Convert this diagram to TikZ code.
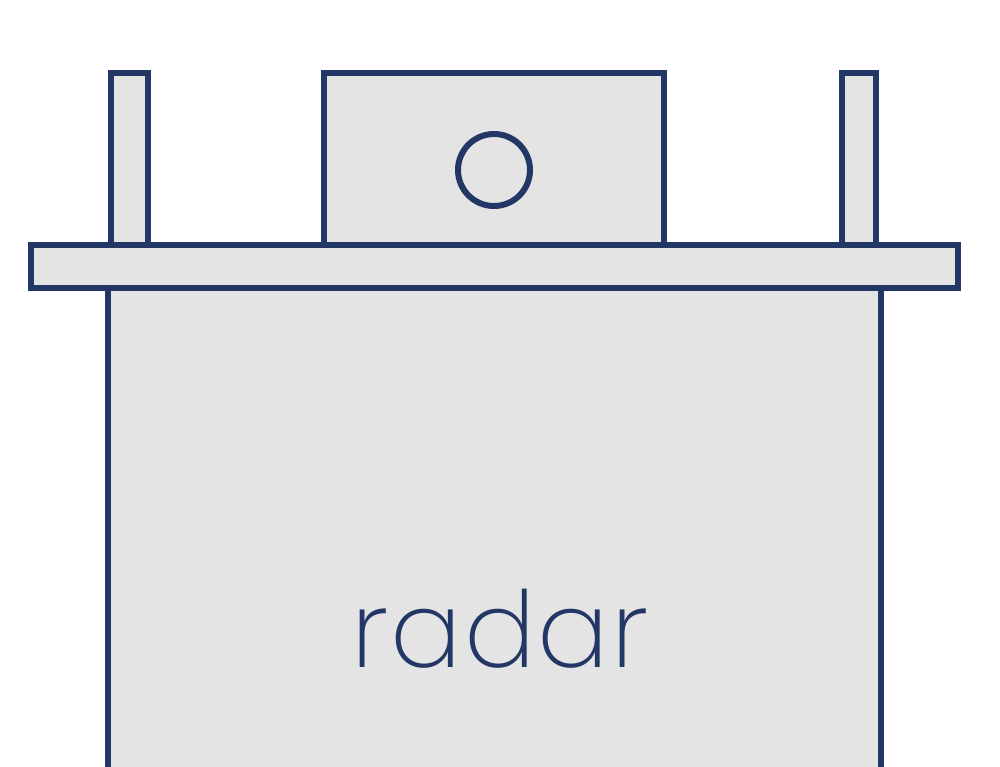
\documentclass[tikz,border=0pt]{standalone}
\usepackage{fontspec}
\newfontfamily\radarfont{Poppins}[UprightFont=* ExtraLight, LetterSpace=2]
\definecolor{navy}{HTML}{233766}
\definecolor{panel}{HTML}{E4E4E4}
\tikzset{
  part/.style={draw=navy, fill=panel, line width=6pt},
}
\begin{document}
\begin{tikzpicture}[x=1pt, y=-1pt]
		\clip (0,0) rectangle (1000,766);
		\fill[white] (0,0) rectangle (1000,766);
		% Posts and top box
		\draw[part] (111,245) rectangle (148,73);
		\draw[part] (842,245) rectangle (876,73);
		\draw[part] (324,245) rectangle (664,73);
		\draw[navy, line width=6pt] (494,170) circle (36);
		% Plate
		\draw[part] (31,245) rectangle (958,288);
		% Body
		\draw[part] (108,288) rectangle (881,800);
		\node[text=navy, font=\radarfont\fontsize{106}{106}\selectfont, anchor=base] (label) at (500,667) {radar};
	\end{tikzpicture}
\end{document}
